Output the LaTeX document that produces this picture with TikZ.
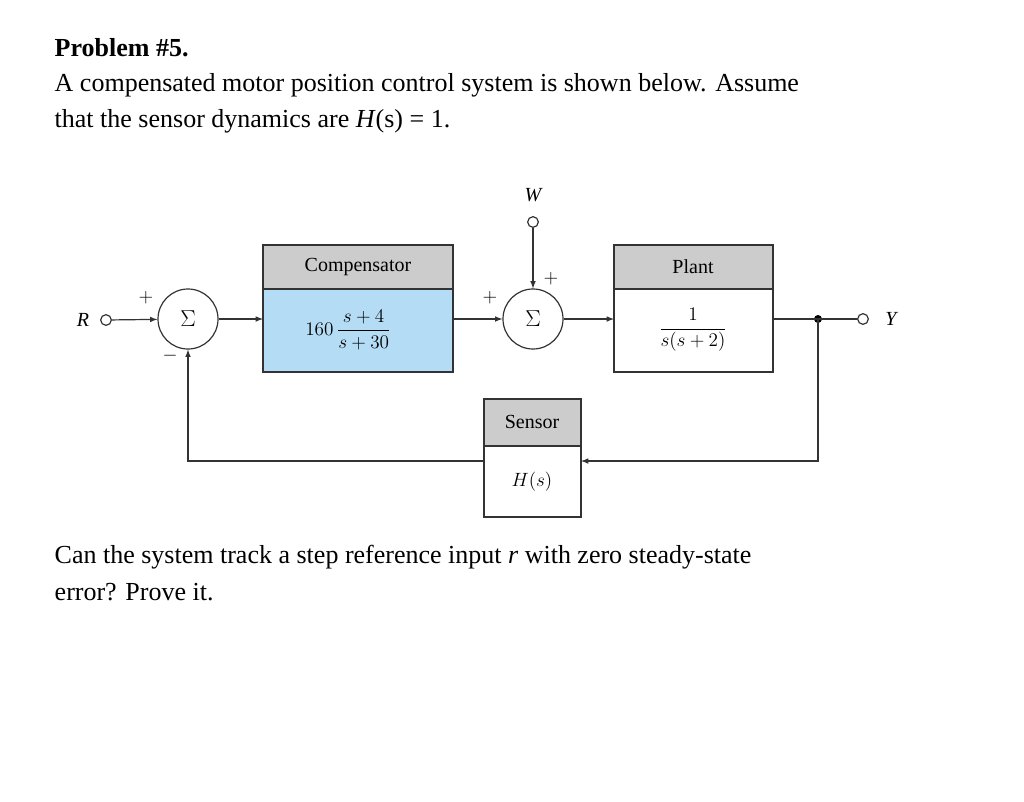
\documentclass[tikz,border=0pt]{standalone}
\usepackage{amsmath}
\usepackage{fontspec}
\setmainfont{Liberation Serif}
\definecolor{compblue}{RGB}{180,220,245}
\begin{document}
\begin{tikzpicture}[x=0.75pt,y=-0.75pt,
 line/.style={draw=black!80,line width=0.9pt},
 arr/.style={line,-latex},
 sumn/.style={circle,draw=black!80,line width=0.9pt,minimum size=45pt,inner sep=0pt,font=\fontsize{16}{18}\selectfont},
 term/.style={circle,draw=black!80,line width=0.9pt,minimum size=8pt,inner sep=0pt,fill=white},
 sig/.style={font=\fontsize{15}{17}\selectfont\itshape},
 lbl/.style={font=\fontsize{15}{17}\selectfont},
 txt/.style={anchor=west,font=\fontsize{19.5}{22}\selectfont}]
\useasboundingbox (0,0) rectangle (1024,801);
% text
\node[txt,font=\fontsize{19.5}{22}\selectfont\bfseries] (t0) at (50,48) {Problem \#5.};
\node[txt] (t1) at (50,85) {A compensated motor position control system is shown below. Assume};
\node[txt] (t2) at (50,121) {that the sensor dynamics are \textit{H}(s) = 1.};
\node[txt] (t3) at (50,557) {Can the system track a step reference input \textit{r} with zero steady-state};
\node[txt] (t4) at (50,592) {error? Prove it.};
% blocks
\fill[black!20] (263,245) rectangle (453,289);
\fill[compblue] (263,289) rectangle (453,372);
\draw[line] (263,245) rectangle (453,372); \draw[line] (263,289) -- (453,289);
\node[lbl] (ch) at (358,267) {Compensator};
\node[lbl] (cf) at (348,330) {$160\,\dfrac{s+4}{s+30}$};
\fill[black!20] (614,245) rectangle (773,289);
\draw[line] (614,245) rectangle (773,372); \draw[line] (614,289) -- (773,289);
\node[lbl] (ph) at (693,267) {Plant};
\node[lbl] (pf) at (693,330) {$\dfrac{1}{s(s+2)}$};
\fill[black!20] (484,399) rectangle (581,446);
\draw[line] (484,399) rectangle (581,517); \draw[line] (484,446) -- (581,446);
\node[lbl] (sh) at (532,422) {Sensor};
\node[lbl] (sf) at (532,482) {$H(s)$};
\coordinate (cin) at (263,319); \coordinate (cout) at (453,319);
\coordinate (pin) at (614,319); \coordinate (pout) at (773,319);
\coordinate (sin) at (581,461); \coordinate (sout) at (484,461);
% sums
\node[sumn] (s1) at (188,319) {$\Sigma$};
\node[sumn] (s2) at (533,319) {$\Sigma$};
\node[term] (r) at (106,320) {};
\node[term] (w) at (533,222) {};
\node[term] (y) at (863,319) {};
\fill (818,319) circle (3pt) coordinate (j);
\coordinate (j) at (818,319);
\node[sig] (rl) at (83,320) {R};
\node[sig] (wl) at (533,195) {W};
\node[sig] (yl) at (891,319) {Y};
\node[lbl] (p1) at (146,298) {$+$};
\node[lbl] (m1) at (170,356) {$-$};
\node[lbl] (p2) at (490,298) {$+$};
\node[lbl] (p3) at (551,279) {$+$};
% connectors
\draw[arr] (r) -- (s1);
\draw[arr] (s1) -- (cin);
\draw[arr] (cout) -- (s2);
\draw[arr] (w) -- (s2);
\draw[arr] (s2) -- (pin);
\draw[line] (pout) -- (y);
\draw[arr] (j) |- (sin);
\draw[arr] (sout) -| (s1);
\end{tikzpicture}
\end{document}
